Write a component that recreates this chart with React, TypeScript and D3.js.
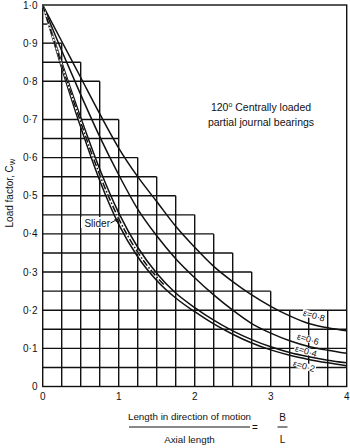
import React from 'react';
import * as d3 from 'd3';

// load factor data (x = B/L, y = C_W)
const eps08: [number, number][] = [[0, 1], [0.25, 0.905], [0.5, 0.81], [0.75, 0.715], [1, 0.625], [1.25, 0.55], [1.5, 0.485], [1.75, 0.42], [2, 0.365], [2.25, 0.315], [2.5, 0.275], [2.75, 0.24], [3, 0.21], [3.25, 0.185], [3.5, 0.165], [3.75, 0.154], [4, 0.146]];
const eps06: [number, number][] = [[0, 1], [0.25, 0.88], [0.5, 0.765], [0.75, 0.655], [1, 0.555], [1.25, 0.465], [1.5, 0.395], [1.75, 0.335], [2, 0.285], [2.25, 0.24], [2.5, 0.2], [2.75, 0.165], [3, 0.14], [3.25, 0.12], [3.5, 0.105], [3.75, 0.095], [4, 0.087]];
const eps04: [number, number][] = [[0, 1], [0.25, 0.85], [0.5, 0.705], [0.75, 0.57], [1, 0.455], [1.25, 0.365], [1.5, 0.297], [1.75, 0.245], [2, 0.207], [2.25, 0.174], [2.5, 0.146], [2.75, 0.123], [3, 0.104], [3.25, 0.089], [3.5, 0.078], [3.75, 0.069], [4, 0.062]];
const eps02: [number, number][] = [[0, 1], [0.25, 0.835], [0.5, 0.68], [0.75, 0.54], [1, 0.425], [1.25, 0.34], [1.5, 0.278], [1.75, 0.232], [2, 0.196], [2.25, 0.164], [2.5, 0.137], [2.75, 0.114], [3, 0.096], [3.25, 0.082], [3.5, 0.071], [3.75, 0.062], [4, 0.054]];
const slider: [number, number][] = [[0, 1], [0.25, 0.843], [0.5, 0.693], [0.75, 0.555], [1, 0.44], [1.25, 0.352], [1.5, 0.287], [1.6, 0.266]];

const xTicks = [0, 1, 2, 3, 4];
const xTickLabels = ['0', '1', '2', '3', '4'];
const yTicks = [0, 0.1, 0.2, 0.3, 0.4, 0.5, 0.6, 0.7, 0.8, 0.9, 1.0];
const yTickLabels = ['0', '0·1', '0·2', '0·3', '0·4', '0·5', '0·6', '0·7', '0·8', '0·9', '1·0'];

// top of the grid in each 0.25 wide column (the staircase)
const columnTops = [0.9, 0.85, 0.8, 0.7, 0.6, 0.55, 0.5, 0.45, 0.4, 0.35, 0.3, 0.25, 0.2, 0.2, 0.2, 0.2];
const missingRows = [0.75];

const FONT = '"Liberation Sans", Arial, sans-serif';
const INK = '#111';

export default function App() {
  const x = d3.scaleLinear().domain([0, 4]).range([42.7, 346.7]);
  const y = d3.scaleLinear().domain([0, 1]).range([386.5, 5]);

  const line = d3.line<[number, number]>()
    .x(d => x(d[0]))
    .y(d => y(d[1]))
    .curve(d3.curveMonotoneX);

  const vLines = columnTops.slice(0, -1).map((top, i) => ({ at: (i + 1) * 0.25, top }));
  const hLines: { at: number; end: number }[] = [];
  for (let k = 1; k <= 18; k++) {
    const v = Math.round(k * 5) / 100;
    if (missingRows.some(m => Math.abs(m - v) < 1e-6)) continue;
    const n = columnTops.filter(t => t >= v - 1e-6).length;
    hLines.push({ at: v, end: n * 0.25 });
  }

  const curves = [eps08, eps06, eps04, eps02];
  const epsLabels = [
    { text: 'ε=0·8', cx: 314, cy: 315.5 },
    { text: 'ε=0·6', cx: 308, cy: 339 },
    { text: 'ε=0·4', cx: 306, cy: 351 },
    { text: 'ε=0·2', cx: 304, cy: 366 },
  ];

  return (
    <svg width={350} height={448} style={{ position: 'absolute', left: 0, top: 0, background: '#fff' }}
      fontFamily={FONT}>
      <g stroke={INK} strokeWidth={1.4} fill="none">
        {vLines.map(d => (
          <line key={'v' + d.at} x1={x(d.at)} x2={x(d.at)} y1={y(0)} y2={y(d.top)} />
        ))}
        {hLines.map(d => (
          <line key={'h' + d.at} x1={x(0)} x2={x(d.end)} y1={y(d.at)} y2={y(d.at)} />
        ))}
        <line x1={x(0)} x2={x(0.06)} y1={y(0.95)} y2={y(0.95)} />
        <rect x={x(0)} y={y(1)} width={x(4) - x(0)} height={y(0) - y(1)} />
      </g>

      {/* label backgrounds */}
      <rect x={81} y={217} width={30} height={11} fill="#fff" />
      {epsLabels.map(l => (
        <rect key={'b' + l.text} x={-12} y={-3.5} width={24} height={7} fill="#fff"
          transform={`translate(${l.cx},${l.cy}) rotate(16)`} />
      ))}

      <g fill="none" stroke={INK} strokeWidth={1.5}>
        {curves.map((c, i) => <path key={i} d={line(c) ?? ''} />)}
        <path d={line(slider) ?? ''} stroke="#fff" strokeWidth={1.6} />
        <path d={line(slider) ?? ''} strokeDasharray="7,2,1.5,2" />
      </g>

      <text x={110} y={226.5} fontSize={10} textAnchor="end" fill={INK}>Slider</text>
      <g stroke={INK} strokeWidth={1} fill="none">
        <line x1={110.5} y1={223} x2={118} y2={219} />
        <path d="M114.5,219.5 L118,219 L116,222" />
      </g>

      {epsLabels.map(l => (
        <text key={l.text} fontSize={9} textAnchor="middle" dy="0.35em" fill={INK}
          transform={`translate(${l.cx},${l.cy}) rotate(16)`}>{l.text}</text>
      ))}

      {yTicks.map((t, i) => (
        <text key={'yt' + i} x={37.5} y={y(t)} dy="0.35em" fontSize={10} textAnchor="end" fill={INK}>
          {yTickLabels[i]}
        </text>
      ))}
      {xTicks.map((t, i) => (
        <text key={'xt' + i} x={x(t)} y={400} fontSize={10} textAnchor="middle" fill={INK}>
          {xTickLabels[i]}
        </text>
      ))}

      <text transform="translate(12.5,193) rotate(-90)" fontSize={10} textAnchor="middle" fill={INK}>
        Load factor, C<tspan fontSize={7} dy={2.5}>W</tspan>
      </text>

      <text x={261} y={111} fontSize={10.5} textAnchor="middle" fill={INK}>
        120<tspan fontSize={7} dy={-4}>o</tspan><tspan dy={4}> Centrally loaded</tspan>
      </text>
      <text x={261} y={126} fontSize={10.5} textAnchor="middle" fill={INK}>partial journal bearings</text>

      <text x={189.5} y={420} fontSize={9.8} textAnchor="middle" fill={INK}>Length in direction of motion</text>
      <line x1={129} x2={250} y1={427} y2={427} stroke={INK} strokeWidth={1} />
      <text x={189.5} y={443} fontSize={9.8} textAnchor="middle" fill={INK}>Axial length</text>
      <text x={255} y={430.5} fontSize={10} textAnchor="middle" fill={INK}>=</text>
      <text x={282.5} y={421} fontSize={10} textAnchor="middle" fill={INK}>B</text>
      <line x1={277.5} x2={287.5} y1={427} y2={427} stroke={INK} strokeWidth={1} />
      <text x={282.5} y={443} fontSize={10} textAnchor="middle" fill={INK}>L</text>
    </svg>
  );
}
